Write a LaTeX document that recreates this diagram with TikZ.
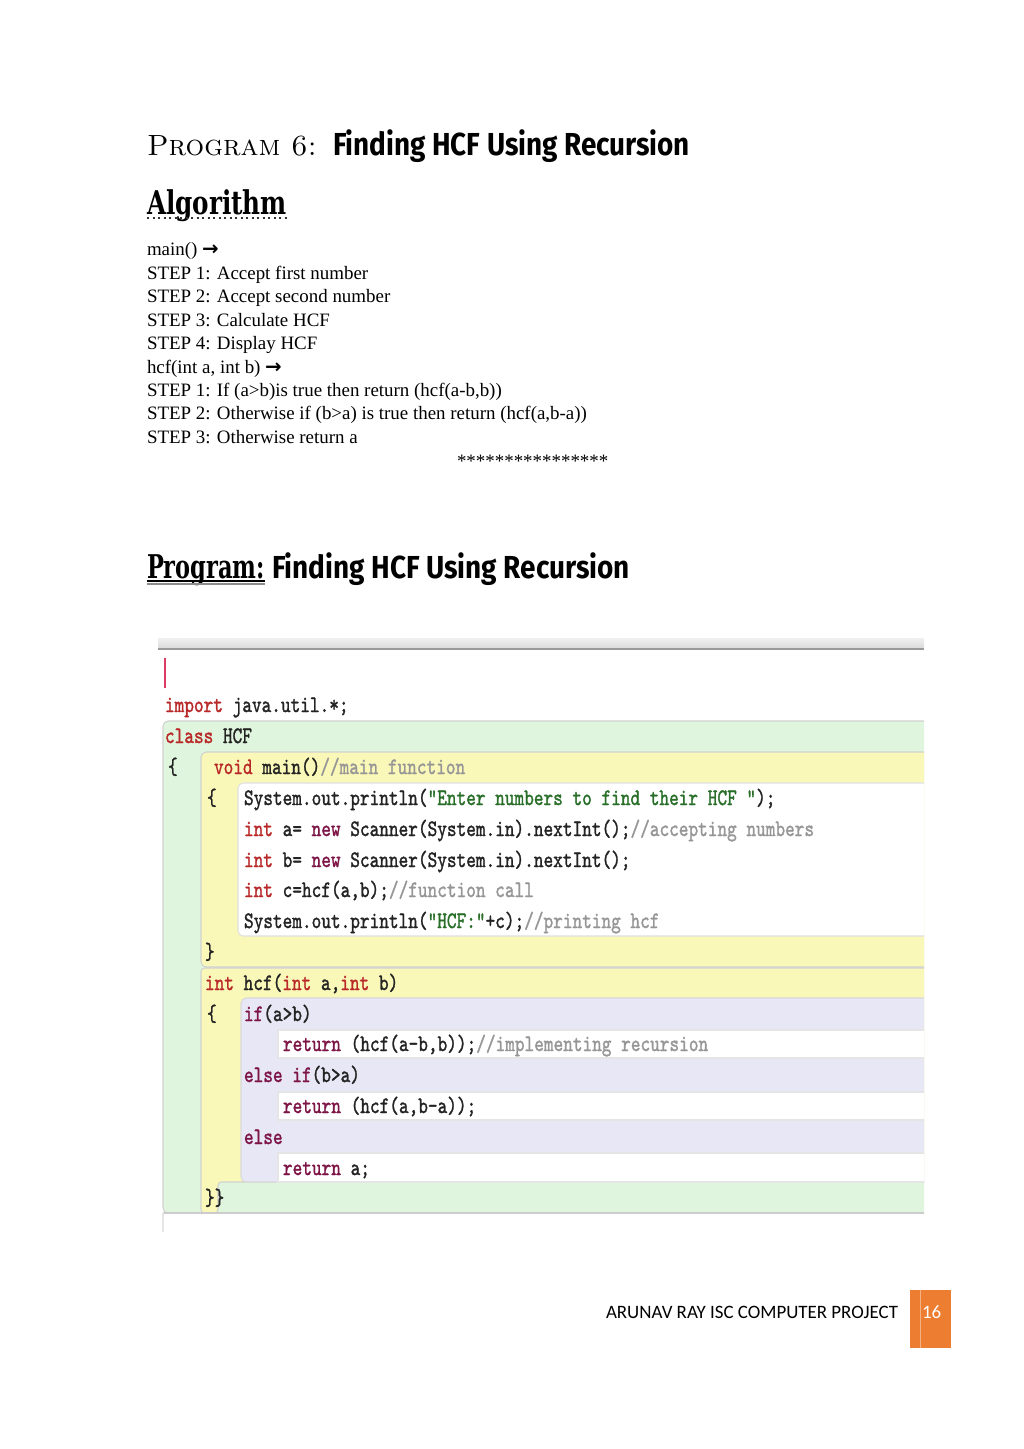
\documentclass[tikz,border=0pt]{standalone}
\usepackage{fontspec}
\usepackage{graphicx}
\newfontfamily\timesfont{Liberation Serif}
\newfontfamily\codefont{Latin Modern Mono}[FakeBold=1.5]
\newfontfamily\decofont{Fira Sans}
\newfontfamily\footfont{Carlito}
\newfontfamily\symfont{DejaVu Sans}
\newfontfamily\gothfont{DejaVu Serif}
\definecolor{cgreen}{RGB}{223,245,221}
\definecolor{cyellow}{RGB}{250,248,184}
\definecolor{clav}{RGB}{231,231,246}
\definecolor{kwa}{RGB}{185,40,40}
\definecolor{kwb}{RGB}{125,20,70}
\definecolor{cstr}{RGB}{40,110,40}
\definecolor{ccom}{RGB}{150,150,150}
\definecolor{ctext}{RGB}{35,35,35}
\definecolor{corange}{RGB}{237,125,49}
\definecolor{cursor}{RGB}{220,60,100}
\newcommand\kwa[1]{\textcolor{kwa}{#1}}
\newcommand\kwb[1]{\textcolor{kwb}{#1}}
\newcommand\str[1]{\textcolor{cstr}{#1}}
\newcommand\cmt[1]{\textcolor{ccom}{#1}}
\newcommand\cd[1]{\scalebox{1}[1.28]{\codefont\fontsize{10.7}{12}\selectfont\color{ctext}#1}}
\newcommand\arr{{\symfont\bfseries\fontsize{11.5}{12}\selectfont →}}
\newcommand\goth[2]{\resizebox{#1}{\height}{\gothfont\bfseries\fontsize{19}{19}\selectfont #2}}
\tikzset{
  x=0.58134pt, y=-0.58134pt,
  txt/.style={anchor=base west, inner sep=0pt, outer sep=0pt},
  alg/.style={txt, font=\timesfont\fontsize{11}{13}\selectfont},
  codeln/.style={txt},
  scopebox/.style={line width=0.6pt},
}
\begin{document}
\begin{tikzpicture}
\useasboundingbox (0,0) rectangle (1024,1449);
\fill[white] (0,0) rectangle (1024,1449);

% headings
\node[txt] (h1) at (147,155) {\fontsize{17}{17}\selectfont\textsc{Program 6:}};
\node[txt] (t1) at (333,155) {\resizebox{207.5pt}{\height}{\decofont\bfseries\fontsize{18.5}{18.5}\selectfont Finding HCF Using Recursion}};
\node[txt] (algh) at (147,214) {\goth{81.4pt}{Algorithm}};
\draw[line width=1.2pt, dotted, black!80] (147,218) -- (287,218);

% algorithm text
\node[alg] (a1) at (147,255.7) {main() \arr};
\node[alg] (a2) at (147,279.2) {STEP 1: Accept first number};
\node[alg] (a3) at (147,302.6) {STEP 2: Accept second number};
\node[alg] (a4) at (147,326.1) {STEP 3: Calculate HCF};
\node[alg] (a5) at (147,349.5) {STEP 4: Display HCF};
\node[alg] (a6) at (147,373.0) {hcf(int a, int b) \arr};
\node[alg] (a7) at (147,396.4) {STEP 1: If (a>b)is true then return (hcf(a-b,b))};
\node[alg] (a8) at (147,419.9) {STEP 2: Otherwise if (b>a) is true then return (hcf(a,b-a))};
\node[alg] (a9) at (147,443.3) {STEP 3: Otherwise return a};
\node[alg] (stars) at (457,467) {****************};

% program heading
\node[txt] (progh) at (147,578) {\goth{68.6pt}{Program:}};
\draw[line width=0.9pt, black] (147,581) -- (265,581);
\draw[line width=0.9pt, black!45] (147,584) -- (265,584);
\node[txt] (t2) at (272,578) {\resizebox{208pt}{\height}{\decofont\bfseries\fontsize{18.5}{18.5}\selectfont Finding HCF Using Recursion}};

% code block: toolbar
\shade[top color=black!6, bottom color=black!14] (158,638) rectangle (924,648);
\draw[line width=1.2pt, black!40] (158,649) -- (924,649);
\draw[line width=1pt, cursor] (165,658) -- (165,688);

\begin{scope}
\clip (150,700) rectangle (924,1240);
\draw[scopebox, fill=cgreen, draw=black!18, rounded corners=3pt] (163,721) rectangle (940,1213);
\draw[scopebox, fill=cyellow, draw=black!18, rounded corners=3pt] (201,752) rectangle (940,967);
\draw[scopebox, fill=white, draw=black!12, rounded corners=3pt] (238,783) rectangle (940,936);
\draw[scopebox, fill=cyellow, draw=black!18, rounded corners=2pt] (201,968) -- (940,968) -- (940,1182) -- (218,1182) -- (218,1213) -- (201,1213) -- cycle;
\draw[scopebox, fill=clav, draw=black!15, rounded corners=3pt] (241,998) rectangle (940,1182);
\draw[scopebox, fill=white, draw=black!10] (278,1030) rectangle (940,1058);
\draw[scopebox, fill=white, draw=black!10] (278,1092) rectangle (940,1120);
\draw[scopebox, fill=white, draw=black!10] (278,1153) rectangle (940,1182);
\draw[line width=0.8pt, black!20] (163,1213) -- (924,1213);
\end{scope}
\draw[line width=0.6pt, black!10] (163,1213) -- (163,1232);

% code text
\node[codeln] (c1) at (165,712) {\cd{\kwa{import} java.util.*;}};
\node[codeln] (c2) at (165,743) {\cd{\kwa{class} HCF}};
\node[codeln] (c3b) at (168,774) {\cd{\{}};
\node[codeln] (c3) at (214,774) {\cd{\kwa{void} main()\cmt{//main function}}};
\node[codeln] (c4b) at (207,805) {\cd{\{}};
\node[codeln] (c4) at (244,805) {\cd{System.out.println(\str{"Enter numbers to find their HCF "});}};
\node[codeln] (c5) at (244,836) {\cd{\kwa{int} a= \kwb{new} Scanner(System.in).nextInt();\cmt{//accepting numbers}}};
\node[codeln] (c6) at (244,867) {\cd{\kwa{int} b= \kwb{new} Scanner(System.in).nextInt();}};
\node[codeln] (c7) at (244,897) {\cd{\kwa{int} c=hcf(a,b);\cmt{//function call}}};
\node[codeln] (c8) at (244,928) {\cd{System.out.println(\str{"HCF:"}+c);\cmt{//printing hcf}}};
\node[codeln] (c9) at (205,959) {\cd{\}}};
\node[codeln] (c10) at (205,990) {\cd{\kwa{int} hcf(\kwa{int} a,\kwa{int} b)}};
\node[codeln] (c11b) at (207,1021) {\cd{\{}};
\node[codeln] (c11) at (244,1021) {\cd{\kwb{if}(a>b)}};
\node[codeln] (c12) at (283,1051) {\cd{\kwb{return} (hcf(a-b,b));\cmt{//implementing recursion}}};
\node[codeln] (c13) at (244,1082) {\cd{\kwb{else} \kwb{if}(b>a)}};
\node[codeln] (c14) at (283,1113) {\cd{\kwb{return} (hcf(a,b-a));}};
\node[codeln] (c15) at (244,1144) {\cd{\kwb{else}}};
\node[codeln] (c16) at (283,1175) {\cd{\kwb{return} a;}};
\node[codeln] (c17) at (205,1205) {\cd{\}\}}};

% footer
\node[txt, font=\footfont\fontsize{11}{13}\selectfont] (foot) at (606,1318) {ARUNAV RAY ISC COMPUTER PROJECT};
\fill[corange] (910,1290) rectangle (951,1348);
\draw[line width=0.4pt, corange!60!white] (920,1290) -- (920,1348);
\node[txt, font=\footfont\fontsize{11}{13}\selectfont, text=white] (pg) at (922,1318) {16};
\end{tikzpicture}
\end{document}
